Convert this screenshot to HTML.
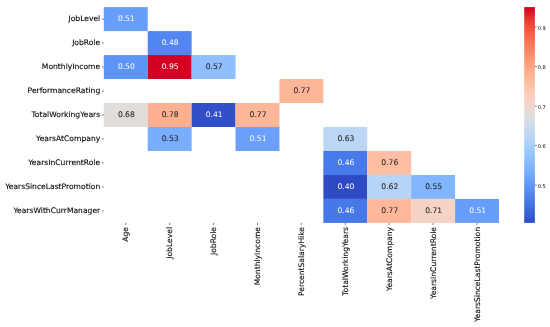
<!DOCTYPE html>
<html><head><meta charset="utf-8"><title>Correlation heatmap</title><style>
html,body{margin:0;padding:0;background:#fff;}
body{width:550px;height:327px;position:relative;overflow:hidden;font-family:'DejaVu Sans', 'Liberation Sans', sans-serif;font-size:7.6px;color:#212121;-webkit-text-stroke:0.05px currentColor;}
svg{position:absolute;left:0;top:0;}
.t{position:absolute;white-space:nowrap;line-height:10px;height:10px;}
.v{position:absolute;white-space:nowrap;line-height:10px;height:10px;width:60px;text-align:center;}
.yl{color:#000;-webkit-text-stroke:0.1px #000;position:absolute;right:449.8px;white-space:nowrap;line-height:10px;height:10px;}
.xl{color:#000;-webkit-text-stroke:0.1px #000;position:absolute;white-space:nowrap;line-height:10px;height:10px;transform-origin:0 0;transform:rotate(-90deg) translate(-100%,-50%);}
.cb{color:#000;-webkit-text-stroke:0;position:absolute;white-space:nowrap;font-size:5px;line-height:6px;}
</style></head><body>

<svg width="550" height="327" viewBox="0 0 550 327">
<defs><linearGradient id="g" x1="0" y1="0" x2="0" y2="1"><stop offset="0.0000" stop-color="#d30022"/><stop offset="0.0156" stop-color="#d80926"/><stop offset="0.0312" stop-color="#de1e2a"/><stop offset="0.0469" stop-color="#e42c2f"/><stop offset="0.0625" stop-color="#e93834"/><stop offset="0.0781" stop-color="#ee4339"/><stop offset="0.0938" stop-color="#f34d3e"/><stop offset="0.1094" stop-color="#f85644"/><stop offset="0.1250" stop-color="#fc5e49"/><stop offset="0.1406" stop-color="#ff674f"/><stop offset="0.1562" stop-color="#ff6f54"/><stop offset="0.1719" stop-color="#ff775a"/><stop offset="0.1875" stop-color="#ff7e60"/><stop offset="0.2031" stop-color="#ff8566"/><stop offset="0.2188" stop-color="#ff8d6c"/><stop offset="0.2344" stop-color="#ff9373"/><stop offset="0.2500" stop-color="#ff9a79"/><stop offset="0.2656" stop-color="#ffa07f"/><stop offset="0.2812" stop-color="#ffa686"/><stop offset="0.2969" stop-color="#ffac8c"/><stop offset="0.3125" stop-color="#ffb293"/><stop offset="0.3281" stop-color="#ffb799"/><stop offset="0.3438" stop-color="#ffbc9f"/><stop offset="0.3594" stop-color="#ffc0a6"/><stop offset="0.3750" stop-color="#ffc5ac"/><stop offset="0.3906" stop-color="#ffc9b3"/><stop offset="0.4062" stop-color="#fecdb9"/><stop offset="0.4219" stop-color="#fad0bf"/><stop offset="0.4375" stop-color="#f6d4c5"/><stop offset="0.4531" stop-color="#f0d6cb"/><stop offset="0.4688" stop-color="#ebd9d1"/><stop offset="0.4844" stop-color="#e5dbd7"/><stop offset="0.5000" stop-color="#dedddd"/><stop offset="0.5156" stop-color="#d9dde2"/><stop offset="0.5312" stop-color="#d4dce6"/><stop offset="0.5469" stop-color="#cedbea"/><stop offset="0.5625" stop-color="#c8daee"/><stop offset="0.5781" stop-color="#c2d8f2"/><stop offset="0.5938" stop-color="#bcd6f5"/><stop offset="0.6094" stop-color="#b6d4f8"/><stop offset="0.6250" stop-color="#b0d1fb"/><stop offset="0.6406" stop-color="#aacefc"/><stop offset="0.6562" stop-color="#a3cbfe"/><stop offset="0.6719" stop-color="#9dc7ff"/><stop offset="0.6875" stop-color="#96c3ff"/><stop offset="0.7031" stop-color="#90bfff"/><stop offset="0.7188" stop-color="#8abbff"/><stop offset="0.7344" stop-color="#84b6ff"/><stop offset="0.7500" stop-color="#7db1ff"/><stop offset="0.7656" stop-color="#77acff"/><stop offset="0.7812" stop-color="#71a7fe"/><stop offset="0.7969" stop-color="#6ba2fc"/><stop offset="0.8125" stop-color="#659cfa"/><stop offset="0.8281" stop-color="#6096f8"/><stop offset="0.8438" stop-color="#5a90f5"/><stop offset="0.8594" stop-color="#558af1"/><stop offset="0.8750" stop-color="#5083ee"/><stop offset="0.8906" stop-color="#4b7dea"/><stop offset="0.9062" stop-color="#4676e6"/><stop offset="0.9219" stop-color="#426fe1"/><stop offset="0.9375" stop-color="#3d68dc"/><stop offset="0.9531" stop-color="#3961d6"/><stop offset="0.9688" stop-color="#355ad1"/><stop offset="0.9844" stop-color="#3252cb"/><stop offset="1.0000" stop-color="#2e4bc5"/></linearGradient></defs>
<rect x="103.80" y="7.10" width="43.91" height="23.98" fill="#679dfb"/>
<rect x="147.71" y="31.08" width="43.91" height="23.98" fill="#5286f0"/>
<rect x="103.80" y="55.06" width="43.91" height="23.98" fill="#5e94f7"/>
<rect x="147.71" y="55.06" width="43.91" height="23.98" fill="#d30022"/>
<rect x="191.62" y="55.06" width="43.91" height="23.98" fill="#90bfff"/>
<rect x="279.44" y="79.04" width="43.91" height="23.98" fill="#ffb597"/>
<rect x="103.80" y="103.02" width="43.91" height="23.98" fill="#e0dddb"/>
<rect x="147.71" y="103.02" width="43.91" height="23.98" fill="#ffb091"/>
<rect x="191.62" y="103.02" width="43.91" height="23.98" fill="#304fc8"/>
<rect x="235.53" y="103.02" width="43.91" height="23.98" fill="#ffb799"/>
<rect x="147.71" y="127.00" width="43.91" height="23.98" fill="#79aeff"/>
<rect x="235.53" y="127.00" width="43.91" height="23.98" fill="#6aa0fc"/>
<rect x="323.35" y="127.00" width="43.91" height="23.98" fill="#bcd6f5"/>
<rect x="323.35" y="150.98" width="43.91" height="23.98" fill="#4879e8"/>
<rect x="367.26" y="150.98" width="43.91" height="23.98" fill="#ffbea3"/>
<rect x="323.35" y="174.96" width="43.91" height="23.98" fill="#2e4bc5"/>
<rect x="367.26" y="174.96" width="43.91" height="23.98" fill="#b6d4f8"/>
<rect x="411.17" y="174.96" width="43.91" height="23.98" fill="#82b5ff"/>
<rect x="323.35" y="198.94" width="43.91" height="23.98" fill="#4778e7"/>
<rect x="367.26" y="198.94" width="43.91" height="23.98" fill="#ffb89b"/>
<rect x="411.17" y="198.94" width="43.91" height="23.98" fill="#f7d3c4"/>
<rect x="455.08" y="198.94" width="43.91" height="23.98" fill="#679dfb"/>
<rect x="524.2" y="7.1" width="10.7" height="215.82" fill="url(#g)"/>
<path d="M101.9 19.09H103.8M101.9 43.07H103.8M101.9 67.05H103.8M101.9 91.03H103.8M101.9 115.01H103.8M101.9 138.99H103.8M101.9 162.97H103.8M101.9 186.95H103.8M101.9 210.93H103.8M125.75 222.92V224.92M169.66 222.92V224.92M213.57 222.92V224.92M257.49 222.92V224.92M301.39 222.92V224.92M345.31 222.92V224.92M389.21 222.92V224.92M433.12 222.92V224.92M477.03 222.92V224.92M534.90 185.12H536.80M534.90 145.59H536.80M534.90 106.06H536.80M534.90 66.52H536.80M534.90 26.99H536.80" stroke="#555" stroke-width="0.8" fill="none"/>
</svg>
<div class="v" style="left:96.35px;top:14.19px;color:#fff;-webkit-text-stroke:0;">0.51</div>
<div class="v" style="left:140.26px;top:38.19px;color:#fff;-webkit-text-stroke:0;">0.48</div>
<div class="v" style="left:96.35px;top:62.19px;color:#fff;-webkit-text-stroke:0;">0.50</div>
<div class="v" style="left:140.26px;top:62.19px;color:#fff;-webkit-text-stroke:0;">0.95</div>
<div class="v" style="left:184.17px;top:62.19px;color:#212121;">0.57</div>
<div class="v" style="left:272.00px;top:86.19px;color:#212121;">0.77</div>
<div class="v" style="left:96.35px;top:110.19px;color:#212121;">0.68</div>
<div class="v" style="left:140.26px;top:110.19px;color:#212121;">0.78</div>
<div class="v" style="left:184.17px;top:110.19px;color:#fff;-webkit-text-stroke:0;">0.41</div>
<div class="v" style="left:228.09px;top:110.19px;color:#212121;">0.77</div>
<div class="v" style="left:140.26px;top:134.19px;color:#212121;">0.53</div>
<div class="v" style="left:228.09px;top:134.19px;color:#fff;-webkit-text-stroke:0;">0.51</div>
<div class="v" style="left:315.91px;top:134.19px;color:#212121;">0.63</div>
<div class="v" style="left:315.91px;top:158.19px;color:#fff;-webkit-text-stroke:0;">0.46</div>
<div class="v" style="left:359.81px;top:158.19px;color:#212121;">0.76</div>
<div class="v" style="left:315.91px;top:182.19px;color:#fff;-webkit-text-stroke:0;">0.40</div>
<div class="v" style="left:359.81px;top:182.19px;color:#212121;">0.62</div>
<div class="v" style="left:403.73px;top:182.19px;color:#212121;">0.55</div>
<div class="v" style="left:315.91px;top:206.19px;color:#fff;-webkit-text-stroke:0;">0.46</div>
<div class="v" style="left:359.81px;top:206.19px;color:#212121;">0.77</div>
<div class="v" style="left:403.73px;top:206.19px;color:#212121;">0.71</div>
<div class="v" style="left:447.63px;top:206.19px;color:#fff;-webkit-text-stroke:0;">0.51</div>
<div class="yl" style="top:14.39px">JobLevel</div>
<div class="yl" style="top:38.37px">JobRole</div>
<div class="yl" style="top:62.35px">MonthlyIncome</div>
<div class="yl" style="top:86.33px">PerformanceRating</div>
<div class="yl" style="top:110.31px">TotalWorkingYears</div>
<div class="yl" style="top:134.29px">YearsAtCompany</div>
<div class="yl" style="top:158.27px">YearsInCurrentRole</div>
<div class="yl" style="top:182.25px">YearsSinceLastPromotion</div>
<div class="yl" style="top:206.23px">YearsWithCurrManager</div>
<div class="xl" style="left:125.75px;top:227.12px">Age</div>
<div class="xl" style="left:169.66px;top:227.12px">JobLevel</div>
<div class="xl" style="left:213.57px;top:227.12px">JobRole</div>
<div class="xl" style="left:258.49px;top:227.12px">MonthlyIncome</div>
<div class="xl" style="left:302.39px;top:227.12px">PercentSalaryHike</div>
<div class="xl" style="left:346.31px;top:227.12px">TotalWorkingYears</div>
<div class="xl" style="left:390.21px;top:227.12px">YearsAtCompany</div>
<div class="xl" style="left:434.12px;top:227.12px">YearsInCurrentRole</div>
<div class="xl" style="left:478.03px;top:227.12px">YearsSinceLastPromotion</div>
<div class="cb" style="left:537.70px;top:182.72px">0.5</div>
<div class="cb" style="left:537.70px;top:143.19px">0.6</div>
<div class="cb" style="left:537.70px;top:103.66px">0.7</div>
<div class="cb" style="left:537.70px;top:64.12px">0.8</div>
<div class="cb" style="left:537.70px;top:24.59px">0.9</div>
</body></html>
